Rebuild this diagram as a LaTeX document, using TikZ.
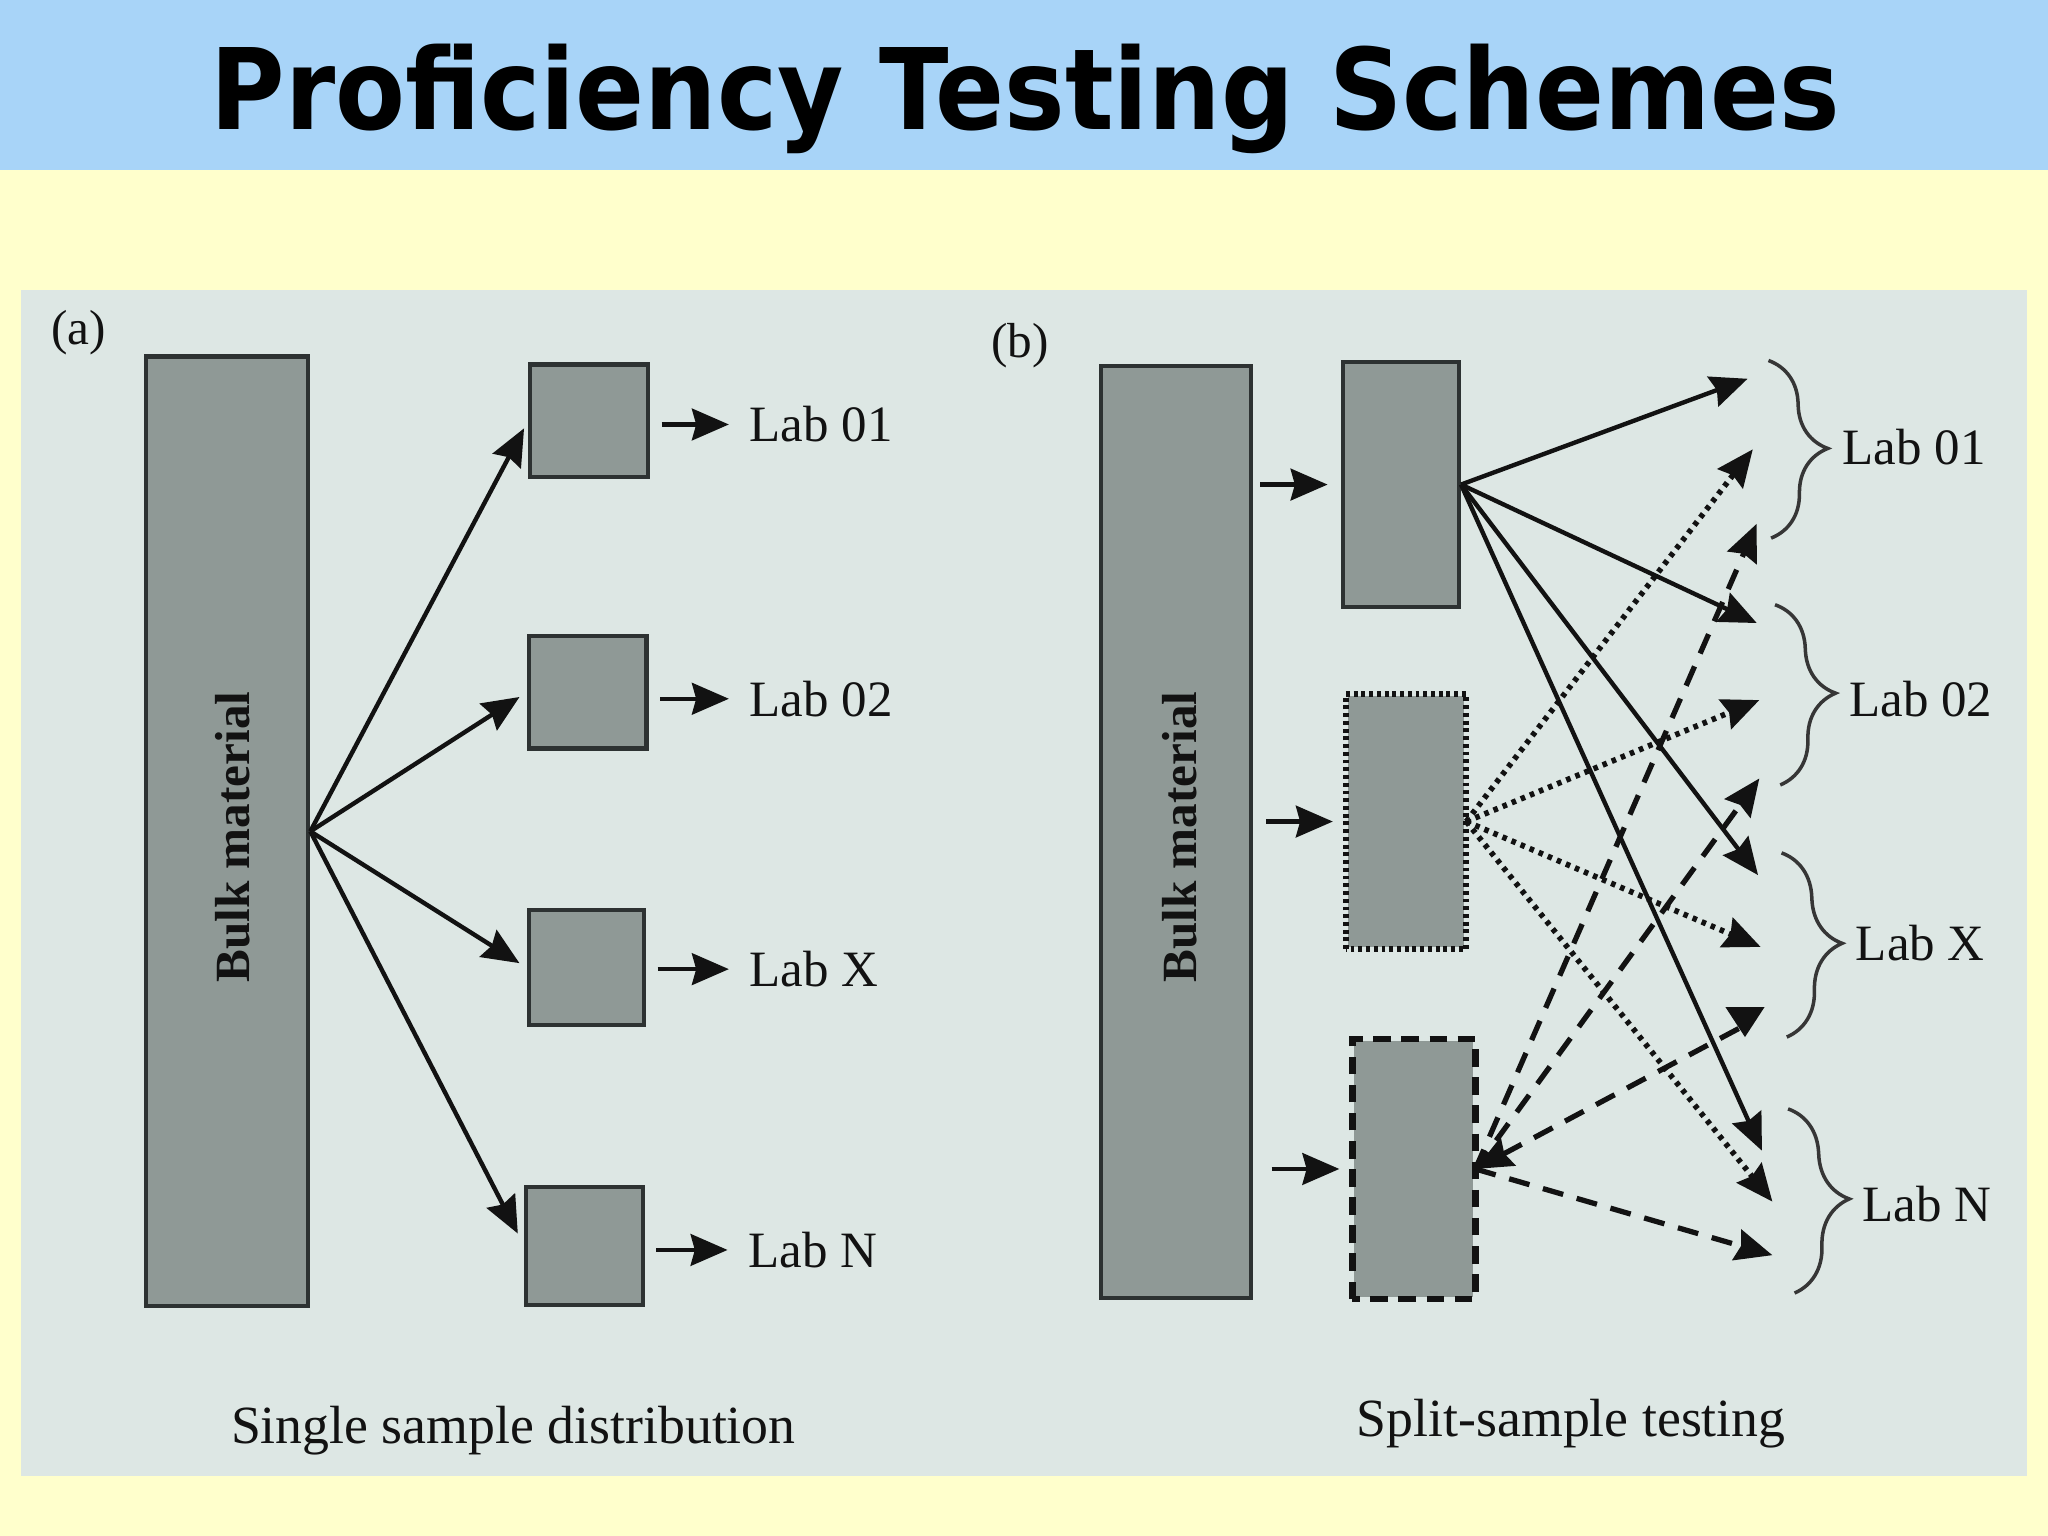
\documentclass[tikz,border=0pt]{standalone}
\usepackage{fontspec}
\setmainfont{Liberation Serif}
\newfontfamily\titlefont[FakeStretch=0.905]{DejaVu Sans}
\usetikzlibrary{arrows.meta,decorations.pathreplacing,calc}
\definecolor{titleblue}{RGB}{168,212,248}
\definecolor{pageyellow}{RGB}{255,255,204}
\definecolor{photobg}{RGB}{221,231,228}
\definecolor{boxgray}{RGB}{143,153,150}
\definecolor{edgegray}{RGB}{45,50,50}
\definecolor{inkblack}{RGB}{18,18,18}
\def\pxu{0.01306cm}
\begin{document}
\begin{tikzpicture}[x=0.01306cm,y=-0.01306cm,
  >={Stealth[length=10.5pt,width=9pt,inset=1.2pt]},
  ink/.style={draw=inkblack, line width=1.25pt},
  arr/.style={ink,->},
  dotline/.style={line width=1.6pt, dash pattern=on 1.3pt off 1.5pt},
  dashline/.style={line width=1.5pt, dash pattern=on 6pt off 4pt},
  bulkbar/.style={draw=edgegray, fill=boxgray, line width=1.2pt, inner sep=0},
  sample/.style={draw=edgegray, fill=boxgray, line width=1.2pt, inner sep=0},
  dotbox/.style={draw=inkblack, line width=1.8pt, dash pattern=on 1.1pt off 1.1pt},
  dashbox/.style={draw=inkblack, line width=1.8pt, dash pattern=on 5pt off 3pt},
  labtext/.style={font=\fontsize{14.5}{17}\selectfont, text=inkblack, anchor=west, inner sep=2pt},
  captext/.style={font=\fontsize{15.3}{18}\selectfont, text=inkblack, anchor=base, inner sep=0},
  bulktext/.style={font=\bfseries\fontsize{14}{16}\selectfont, text=inkblack, rotate=90, inner sep=0},
  panellabel/.style={font=\fontsize{14}{16}\selectfont, text=inkblack, inner sep=0},
  labbrace/.style={draw=inkblack!85, line width=1pt, decorate, decoration={brace, amplitude=16.5pt}}
]
\useasboundingbox (0,0) rectangle (1568,1176);
\fill[pageyellow] (0,0) rectangle (1568,1176);
\fill[titleblue] (0,0) rectangle (1568,130);
\fill[photobg] (16,222) rectangle (1552,1130);

\node[font=\titlefont\bfseries\fontsize{32}{38}\selectfont, anchor=base, inner sep=0] (title) at (785,99.5) {Proficiency Testing Schemes};

% ---------- panel (a)
\node[panellabel] (pa) at (60,255) {(a)};
\node[bulkbar, minimum width=124*\pxu, minimum height=727*\pxu] (bulkA) at (174,636.5) {};
\node[bulktext] (bulkAtext) at (178,641) {Bulk material};
\node[sample, minimum width=90*\pxu, minimum height=86*\pxu] (a1) at (451,322) {};
\node[sample, minimum width=90*\pxu, minimum height=86*\pxu] (a2) at (450,530) {};
\node[sample, minimum width=88*\pxu, minimum height=88*\pxu] (a3) at (449,741) {};
\node[sample, minimum width=89*\pxu, minimum height=90*\pxu] (a4) at (447.5,954) {};
\draw[arr, shorten >=2.5pt] (bulkA.east) -- (a1.west);
\draw[arr, shorten >=2.5pt] (bulkA.east) -- (a2.west);
\draw[arr, shorten >=2.5pt] (bulkA.east) -- (a3.west);
\draw[arr, shorten >=4pt] (bulkA.east) -- (a4.west);
\node[labtext] (la1) at (568,325) {Lab 01};
\node[labtext] (la2) at (568,535) {Lab 02};
\node[labtext] (la3) at (568,742) {Lab X};
\node[labtext] (la4) at (567,957) {Lab N};
\draw[arr, shorten <=3.3pt, shorten >=3.7pt] (a1.east |- la1.west) -- (la1.west);
\draw[arr, shorten <=3.3pt, shorten >=3.7pt] (a2.east |- la2.west) -- (la2.west);
\draw[arr, shorten <=3.3pt, shorten >=3.7pt] (a3.east |- la3.west) -- (la3.west);
\draw[arr, shorten <=3.3pt, shorten >=3.7pt] (a4.east |- la4.west) -- (la4.west);
\node[captext] (capA) at (393,1105) {Single sample distribution};

% ---------- panel (b)
\node[panellabel] (pb) at (781,265) {(b)};
\node[bulkbar, minimum width=115*\pxu, minimum height=714*\pxu] (bulkB) at (900.5,637) {};
\node[bulktext] (bulkBtext) at (903,641) {Bulk material};
\node[sample, minimum width=89*\pxu, minimum height=188*\pxu] (b1) at (1072.5,371) {};
\node[sample, draw=none, minimum width=89*\pxu, minimum height=192*\pxu] (b2) at (1076.5,629) {};
\draw[dotbox] (b2.south west) rectangle (b2.north east);
\node[sample, draw=none, minimum width=91*\pxu, minimum height=196*\pxu] (b3) at (1082.5,895) {};
\draw[dashbox] (b3.south west) rectangle (b3.north east);
\draw[arr, shorten <=1.9pt, shorten >=3.7pt] (bulkB.east |- b1.west) -- (b1.west);
\draw[arr, shorten <=3.7pt, shorten >=3.7pt] (bulkB.east |- b2.west) -- (b2.west);
\draw[arr, shorten <=5.2pt, shorten >=3.7pt] (bulkB.east |- b3.west) -- (b3.west);

\coordinate (s1) at (1338,290); \coordinate (d1) at (1342,344); \coordinate (k1) at (1345,401);
\coordinate (s2) at (1345,477); \coordinate (d2) at (1347,536); \coordinate (k2) at (1347,596);
\coordinate (s3) at (1346,670); \coordinate (d3) at (1348,725); \coordinate (k3) at (1334,786);
\coordinate (s4) at (1349,881); \coordinate (d4) at (1357,920); \coordinate (k4) at (1357,961);

\foreach \t in {s1,s2,s3,s4} \draw[arr] (b1.east) -- (\t);
\foreach \t in {d1,d2,d3,d4} \draw[arr, dotline] (b2.east) -- (\t);
\foreach \t in {k1,k2,k4} \draw[arr, dashline] (b3.east) -- (\t);
\draw[ink, dashline, <-] (b3.east) -- (k3);
\fill[inkblack] (1321,771) -- (1351,771) -- (1336,794) -- cycle;

\draw[labbrace] (1354,276) -- (1356,412);
\draw[labbrace] (1359,463) -- (1363,601);
\draw[labbrace] (1364,653) -- (1368,794);
\draw[labbrace] (1369,849) -- (1374,990);
\node[labtext] (lb1) at (1405,342) {Lab 01};
\node[labtext] (lb2) at (1410,535) {Lab 02};
\node[labtext] (lb3) at (1415,722) {Lab X};
\node[labtext] (lb4) at (1420,922) {Lab N};
\node[captext] (capB) at (1203,1100) {Split-sample testing};
\end{tikzpicture}
\end{document}
